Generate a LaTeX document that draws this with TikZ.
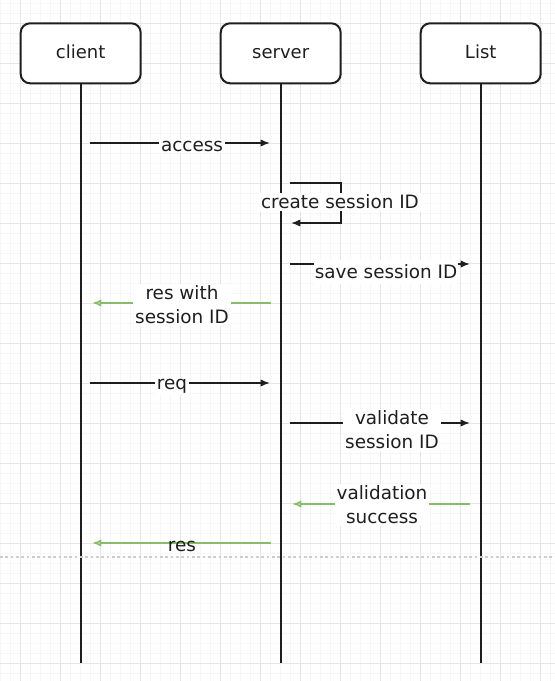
\documentclass[tikz,border=0pt]{standalone}
\usepackage{fontspec}
\setmainfont{DejaVu Sans}
\usepackage{tikz}
\usepackage{xcolor}
\usetikzlibrary{arrows.meta,positioning,calc}
\definecolor{inkblack}{RGB}{30,30,30}
\definecolor{replygreen}{RGB}{134,188,107}
\definecolor{gridmajor}{RGB}{230,230,230}
\definecolor{gridminor}{RGB}{246,246,246}

\tikzset{
  actor/.style={draw=inkblack,line width=1.5pt,fill=white,rounded corners=7pt,minimum width=90pt,minimum height=45pt,text height=1.6ex,text depth=0.3ex,font=\fontsize{13.5}{16}\selectfont,text=inkblack},
  lifeline/.style={draw=inkblack,line width=1.4pt},
  msg/.style={draw=inkblack,line width=1.2pt,-{Latex[length=7pt,width=5.5pt]}},
  reply/.style={draw=replygreen,line width=1.2pt,-{Latex[open,length=7pt,width=5.5pt]}},
  lbl/.style={fill=white,inner sep=1.5pt,align=center,text=inkblack,font=\fontsize{13.8}{18}\selectfont}
}

\begin{document}
\begin{tikzpicture}[x=0.75pt,y=-0.75pt]
\useasboundingbox (0,0) rectangle (555,681);
\fill[white] (0,0) rectangle (555,681);
% grid paper
\begin{scope}[shift={(20.7,23.3)}]
\draw[gridminor,line width=0.4pt,step=7.5pt] (-20.7,-23.3) grid (534.3,657.7);
\draw[gridmajor,line width=0.6pt,step=30pt] (-20.7,-23.3) grid (534.3,657.7);
\end{scope}

% participants
\node[actor] (client) at (80.7,53.3) {client};
\node[actor] (server) at (280.7,53.3) {server};
\node[actor] (list) at (480.7,53.3) {List};
\coordinate (clientend) at (80.7,663);
\coordinate (serverend) at (280.7,663);
\coordinate (listend) at (480.7,663);
\draw[lifeline] (client) -- (clientend);
\draw[lifeline] (server) -- (serverend);
\draw[lifeline] (list) -- (listend);

% messages
\coordinate (acc1) at (90,143); \coordinate (acc2) at (270,143);
\draw[msg] (acc1) -- (acc2);
\node[lbl] (acclbl) at (192,146) {access};

\coordinate (cs1) at (290,183); \coordinate (cs2) at (341,183);
\coordinate (cs3) at (341,223); \coordinate (cs4) at (291,223);
\draw[msg] (cs1) -- (cs2) -- (cs3) -- (cs4);
\node[lbl] (cslbl) at (340,202) {create session ID};

\coordinate (sv1) at (290,264); \coordinate (sv2) at (470,264);
\draw[msg] (sv1) -- (sv2);
\node[lbl,inner xsep=0.5pt,inner ysep=3.5pt] (svlbl) at (386,272) {save session ID};

\coordinate (rw1) at (271,303); \coordinate (rw2) at (92,303);
\draw[reply] (rw1) -- (rw2);
\node[lbl] (rwlbl) at (182,305) {res with\\session ID};

\coordinate (rq1) at (90,383); \coordinate (rq2) at (270,383);
\draw[msg] (rq1) -- (rq2);
\node[lbl] (rqlbl) at (172,386) {req};

\coordinate (vd1) at (290,423); \coordinate (vd2) at (470,423);
\draw[msg] (vd1) -- (vd2);
\node[lbl] (vdlbl) at (392,430) {validate\\session ID};

\coordinate (vs1) at (470,504); \coordinate (vs2) at (292,504);
\draw[reply] (vs1) -- (vs2);
\node[lbl] (vslbl) at (382,505) {validation\\success};

\coordinate (rs1) at (271,543); \coordinate (rs2) at (92,543);
\draw[reply] (rs1) -- (rs2);
\node[lbl,fill=none] (rslbl) at (182,546) {res};

% page break marker
\coordinate (brk1) at (0,557); \coordinate (brk2) at (555,557);
\draw[gray!40,line width=0.8pt,dash pattern=on 2pt off 2pt] (brk1) -- (brk2);
\end{tikzpicture}
\end{document}
